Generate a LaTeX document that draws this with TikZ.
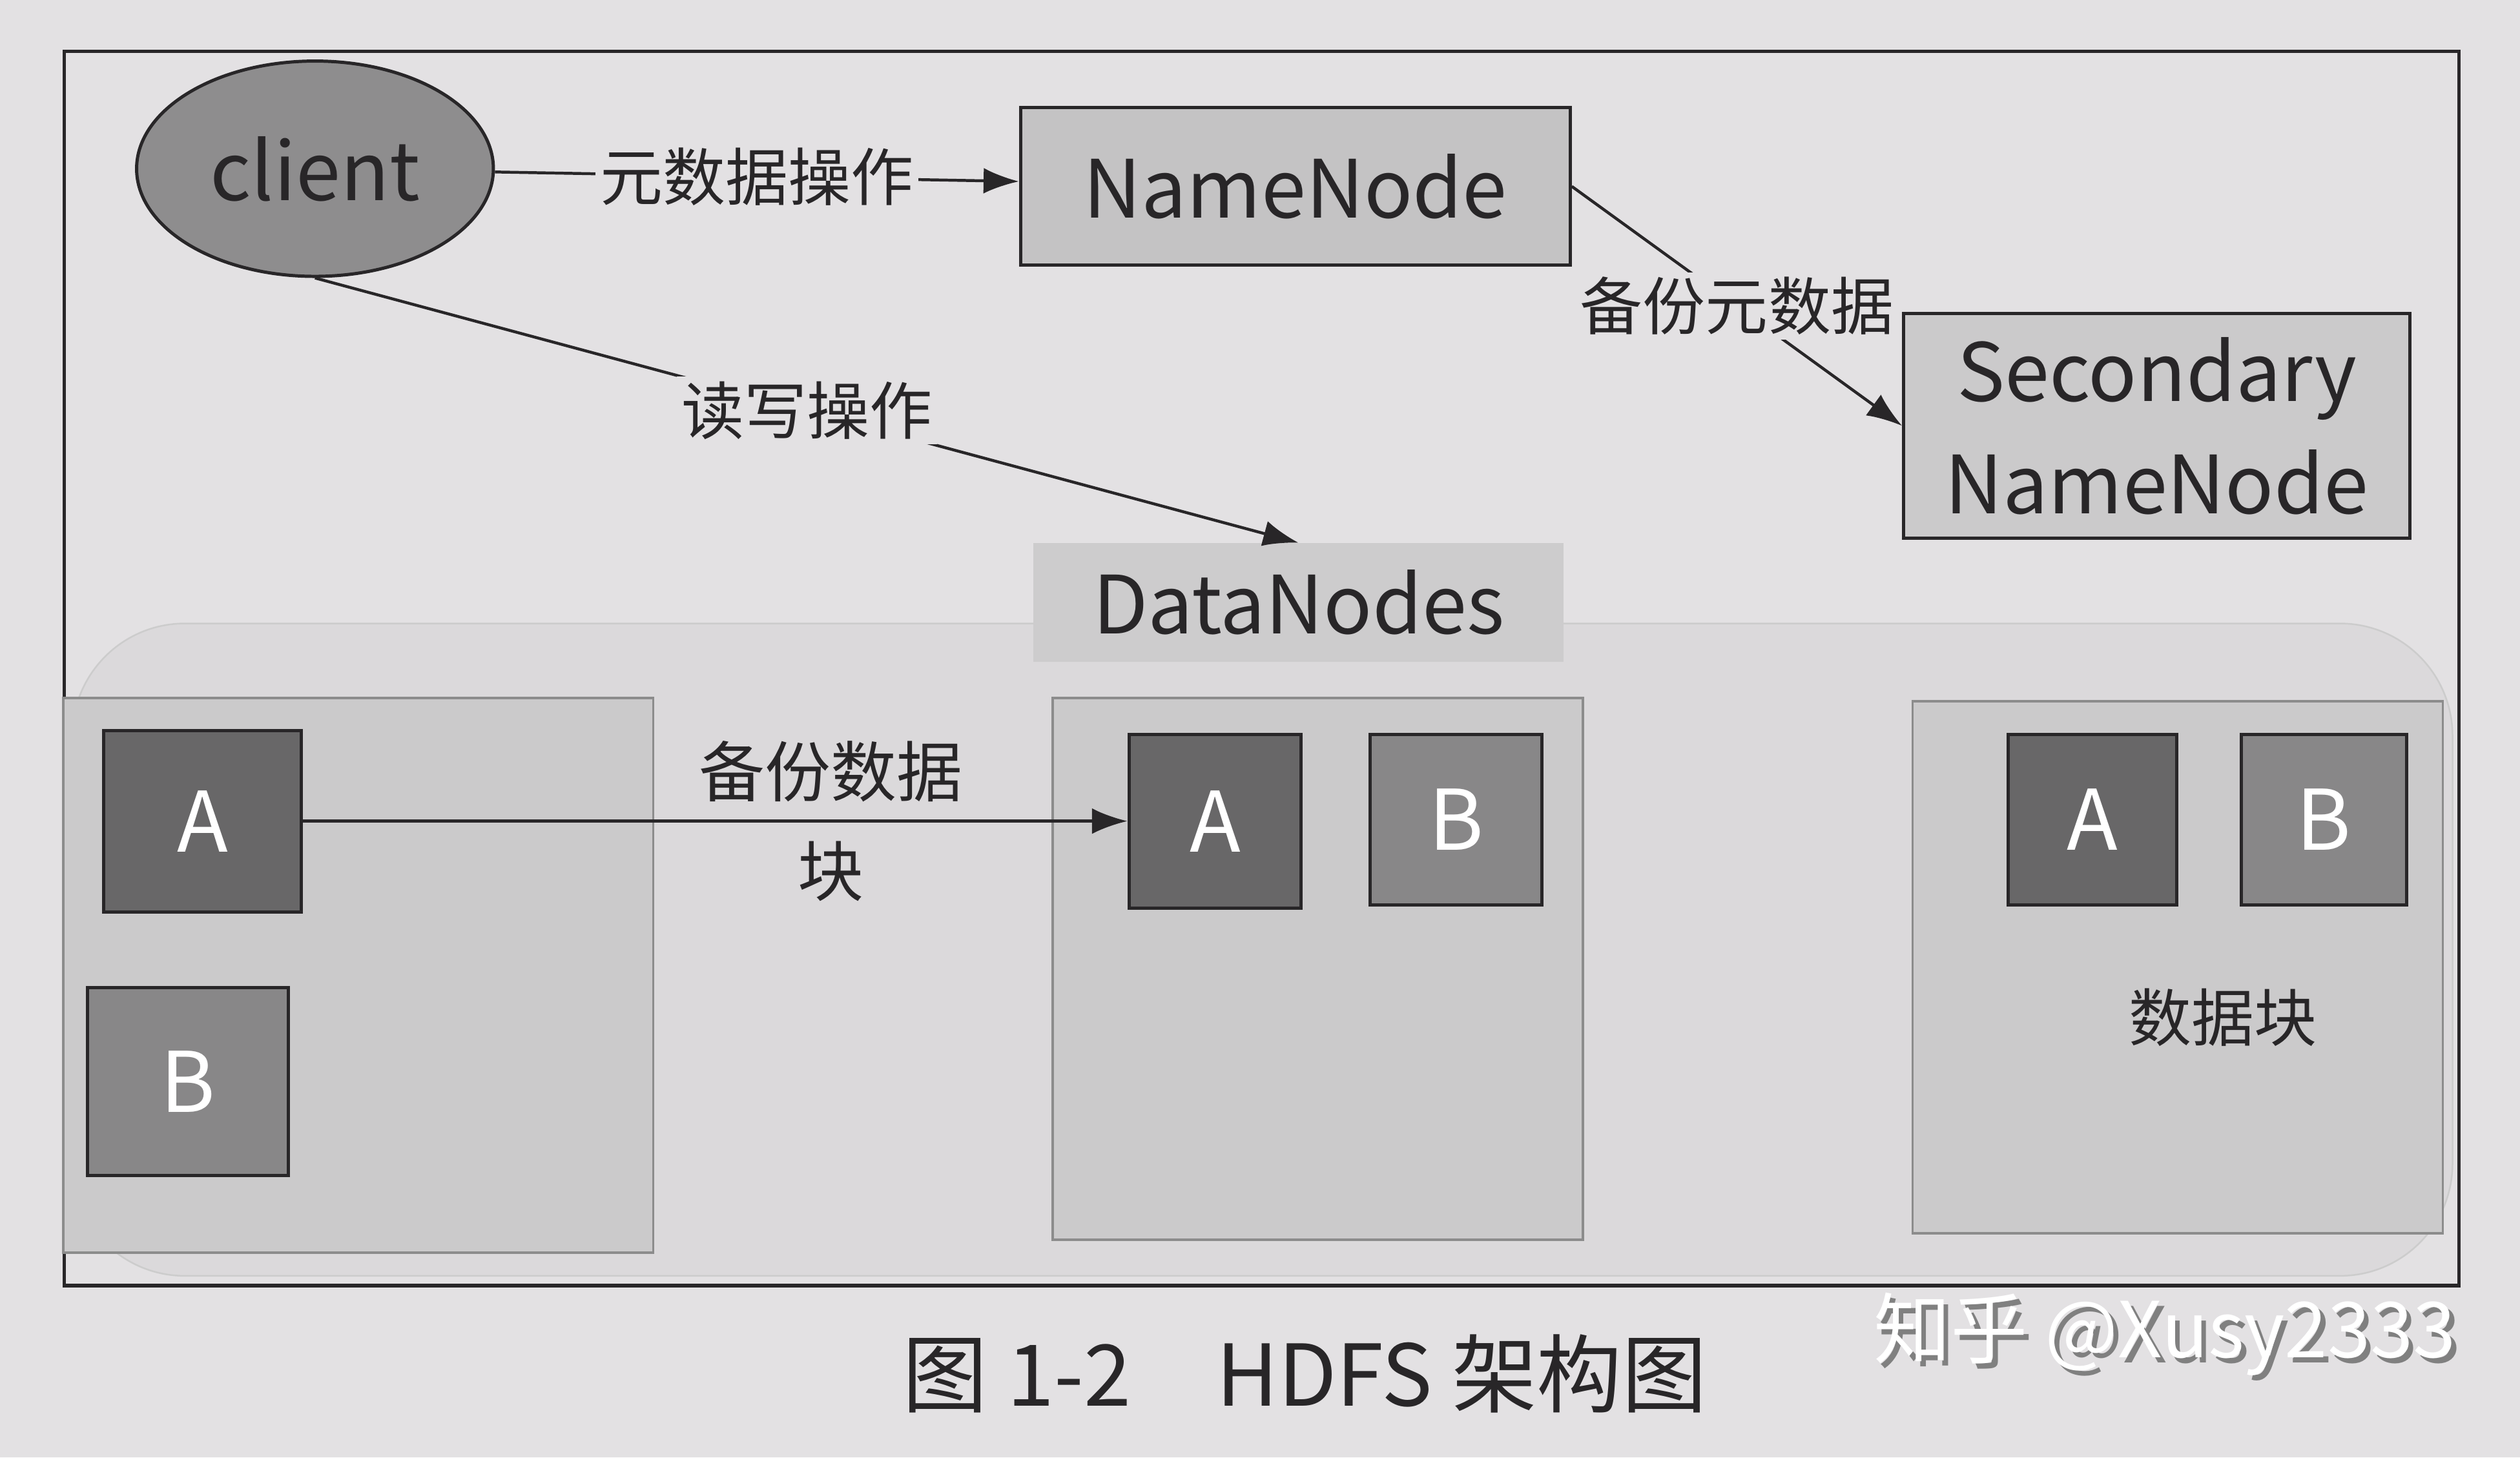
\documentclass[tikz,border=0pt]{standalone}
\usepackage{fontspec}
\setmainfont{Noto Sans CJK SC}
\usetikzlibrary{arrows.meta,positioning,shapes.geometric}

\definecolor{paper}{RGB}{227,225,227}
\definecolor{zone}{RGB}{219,217,219}
\definecolor{nodegray}{RGB}{196,195,196}
\definecolor{dngray}{RGB}{203,202,203}
\definecolor{blkA}{RGB}{104,103,104}
\definecolor{blkB}{RGB}{136,135,136}
\definecolor{clientgray}{RGB}{142,141,142}
\definecolor{ink}{RGB}{40,38,40}

\newcommand{\shadowtext}[1]{\rlap{\color{black!50}\hspace{3pt}\raisebox{-3pt}{#1}}#1}

\tikzset{
  en/.style={font=\fontsize{50}{58}\selectfont, text=ink},
  cn/.style={font=\fontsize{39}{50}\selectfont, text=ink},
  namebox/.style={draw=ink, line width=2pt, fill=nodegray, en, inner sep=0pt},
  dnbox/.style={draw=black!45, line width=1.5pt, fill=dngray, inner sep=0pt},
  blk/.style={draw=ink, line width=2pt, fill=#1, text=white, font=\fontsize{52}{60}\selectfont, inner sep=0pt},
  link/.style={line width=1.8pt, draw=ink, -{Latex[length=22pt,width=16pt]}},
  lbl/.style={cn, fill=paper, inner sep=3pt}
}

\begin{document}
\begin{tikzpicture}[x=1pt,y=-1pt]
\fill[paper] (0,0) rectangle (1568,907);
\useasboundingbox (0,0) rectangle (1568,907);

% frame
\draw[line width=2.2pt, ink] (40,32) rectangle (1530,800);

% datanode zone
\draw[draw=black!20, fill=zone, line width=1pt, rounded corners=70pt] (45,388) rectangle (1526,794);

% top nodes
\node[ellipse, draw=ink, line width=2pt, fill=clientgray, en, minimum width=222pt, minimum height=134pt, inner sep=0pt] (client) at (196,105) {client};
\node[namebox, minimum width=342pt, minimum height=98pt] (nn) at (806,116) {NameNode};
\node[namebox, fill=dngray, minimum width=315pt, minimum height=140pt, align=center, font=\fontsize{50}{70}\selectfont] (snn) at (1342,265) {Secondary\\NameNode};
\node[fill=nodegray!85, en, minimum width=330pt, minimum height=74pt, inner sep=0pt] (dnlabel) at (808,375) {DataNodes};

% datanodes
\node[dnbox, minimum width=367pt, minimum height=345pt] (dn1) at (223,607) {};
\node[dnbox, minimum width=330pt, minimum height=337pt] (dn2) at (820,603) {};
\node[dnbox, minimum width=330pt, minimum height=331pt] (dn3) at (1355,602) {};

% blocks
\node[blk=blkA, minimum width=123pt, minimum height=113pt] (a1) at (126,511) {A};
\node[blk=blkB, minimum width=125pt, minimum height=117pt] (b1) at (117,673) {B};
\node[blk=blkA, minimum width=107pt, minimum height=108pt] (a2) at (756,511) {A};
\node[blk=blkB, minimum width=107pt, minimum height=106pt] (b2) at (906,510) {B};
\node[blk=blkA, minimum width=105pt, minimum height=106pt] (a3) at (1302,510) {A};
\node[blk=blkB, minimum width=103pt, minimum height=106pt] (b3) at (1446,510) {B};
\node[cn] (blocks) at (1383,633) {数据块};

% connectors
\draw[link] (client) -- node[lbl] {元数据操作} (nn);
\draw[link] (nn.east) -- node[lbl] {备份元数据} (snn.west);
\draw[link] (client.south) -- node[lbl] {读写操作} (dnlabel.north);
\draw[link] (a1) -- node[pos=0.64, cn, align=center, font=\fontsize{41}{62}\selectfont] {备份数据\\块} (a2);

% caption
\node[font=\fontsize{53}{60}\selectfont, text=ink] (caption) at (812,855) {图 1-2　HDFS 架构图};
\node[font=\fontsize{48}{54}\selectfont, text=white] (mark) at (1347,832) {\shadowtext{知乎 @Xusy2333}};
\end{tikzpicture}
\end{document}
